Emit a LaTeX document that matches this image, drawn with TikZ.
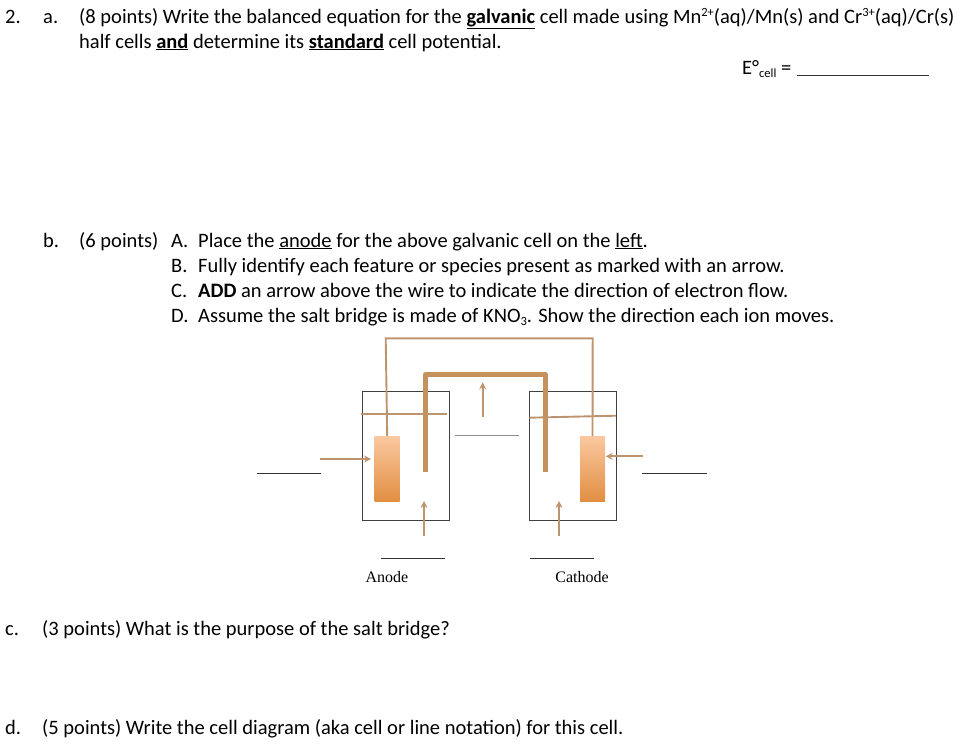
\documentclass[tikz,border=0pt]{standalone}
\usepackage{fontspec}
\setmainfont{Carlito}
\newfontfamily\labelfont{Liberation Serif}
\usetikzlibrary{arrows.meta}
\definecolor{wirebrown}{RGB}{190,148,110}
\definecolor{bridgebrown}{RGB}{198,146,92}
\definecolor{barlight}{RGB}{250,200,160}
\definecolor{bardark}{RGB}{226,142,66}
\newcommand{\upsmall}[1]{\raisebox{6.5pt}{\fontsize{12.5}{13}\selectfont #1}}
\newcommand{\downsmall}[1]{\raisebox{-3pt}{\fontsize{12.5}{13}\selectfont #1}}
\tikzset{
  qtext/.style={anchor=base west,inner sep=0pt,font=\fontsize{20.5}{22}\selectfont},
  celllabel/.style={anchor=base,inner sep=0pt,font=\fontsize{16}{17}\labelfont},
  beaker/.style={draw=black!75,line width=0.9pt,minimum width=87pt,minimum height=129pt,inner sep=0pt},
  metalbar/.style={top color=barlight,bottom color=bardark,minimum width=25pt,minimum height=65pt,inner sep=0pt},
  wire/.style={draw=wirebrown,line width=1.9pt},
  saltbridge/.style={draw=bridgebrown,line width=4.8pt,line join=round},
  markarrow/.style={draw=wirebrown,line width=1.8pt,-{Stealth[length=7pt,width=7pt]}},
  blankline/.style={draw=black!80,line width=0.8pt}
}
\begin{document}
\begin{tikzpicture}[x=1pt,y=-1pt]
      \useasboundingbox (0,0) rectangle (960,744);

      % Part a.
      \draw (5,23) node[qtext] (numtwo) {2.};
      \draw (43,23) node[qtext] (parta) {a.};
      \draw (79,23) node[qtext] (atextone) {(8 points) Write the balanced equation for the \underline{\textbf{galvanic}} cell made using Mn\upsmall{2+}(aq)/Mn(s) and Cr\upsmall{3+}(aq)/Cr(s)};
      \draw (79,48) node[qtext] (atexttwo) {half cells \underline{\textbf{and}} determine its \underline{\textbf{standard}} cell potential.};
      \draw (742,74) node[qtext] (ecell) {E°\downsmall{cell} =};
      \coordinate (eblankl) at (797,75);
      \coordinate (eblankr) at (929,75);
      \draw [blankline] (eblankl) -- (eblankr);

      % Part b.
      \draw (43,247) node[qtext] (partb) {b.};
      \draw (79,247) node[qtext] (bpoints) {(6 points)};
      \draw (171,247) node[qtext] (stepa) {A.};
      \draw (171,272) node[qtext] (stepb) {B.};
      \draw (171,297) node[qtext] (stepc) {C.};
      \draw (171,322) node[qtext] (stepd) {D.};
      \draw (198,247) node[qtext] (texta) {Place the \underline{anode} for the above galvanic cell on the \underline{left}.};
      \draw (198,272) node[qtext] (textb) {Fully identify each feature or species present as marked with an arrow.};
      \draw (198,297) node[qtext] (textc) {\textbf{ADD} an arrow above the wire to indicate the direction of electron flow.};
      \draw (198,322) node[qtext] (textd) {Assume the salt bridge is made of KNO\downsmall{3}. Show the direction each ion moves.};

      % Beakers and electrodes.
      \draw (405.8,455.8) node[beaker] (leftcell) {};
      \draw (572.7,455.8) node[beaker] (rightcell) {};
      \path (387.2,468.7) node[metalbar] (leftbar) {};
      \path (592.5,468.7) node[metalbar] (rightbar) {};

      \coordinate (wiretopl) at (385.7,338.3);
      \coordinate (wiretopr) at (592.7,338.3);
      \draw [wire] (leftbar.north) -- (wiretopl) -- (wiretopr) -- (rightbar.north); % Wire.

      \coordinate (bridgel) at (425.7,472);
      \coordinate (bridgetl) at (425.7,374.7);
      \coordinate (bridgetr) at (545.7,374.7);
      \coordinate (bridger) at (545.7,472);
      \draw [saltbridge] (bridgel) -- (bridgetl) -- (bridgetr) -- (bridger); % Salt bridge.

      \coordinate (levelll) at (361,414);
      \coordinate (levellr) at (447.3,414);
      \coordinate (levelrl) at (529.3,417.7);
      \coordinate (levelrr) at (616,415.7);
      \draw [wire] (levelll) -- (levellr); % Left solution level.
      \draw [wire] (levelrl) -- (levelrr); % Right solution level.

      % Arrows.
      \coordinate (archfoot) at (482.7,417.3);
      \coordinate (archtip) at (482.7,382.3);
      \coordinate (leftfoot) at (319.7,459);
      \coordinate (lefttip) at (371,459);
      \coordinate (rightfoot) at (643.3,456.3);
      \coordinate (righttip) at (605.7,456.3);
      \coordinate (lowlfoot) at (424,535.7);
      \coordinate (lowltip) at (424,501);
      \coordinate (lowrfoot) at (559,535.7);
      \coordinate (lowrtip) at (559,501);
      \draw [markarrow] (archfoot) -- (archtip);
      \draw [markarrow] (leftfoot) -- (lefttip);
      \draw [markarrow] (rightfoot) -- (righttip);
      \draw [markarrow] (lowlfoot) -- (lowltip);
      \draw [markarrow] (lowrfoot) -- (lowrtip);

      % Blanks to fill in.
      \coordinate (blankal) at (256.7,473);
      \coordinate (blankar) at (321,473);
      \coordinate (blankbl) at (642.3,473);
      \coordinate (blankbr) at (706.7,473);
      \coordinate (blankcl) at (455,435.3);
      \coordinate (blankcr) at (518.7,435.3);
      \coordinate (blankdl) at (381.3,558.3);
      \coordinate (blankdr) at (445.3,558.3);
      \coordinate (blankel) at (530,558.3);
      \coordinate (blanker) at (594,558.3);
      \draw [blankline] (blankal) -- (blankar);
      \draw [blankline] (blankbl) -- (blankbr);
      \draw [blankline,draw=black!45] (blankcl) -- (blankcr);
      \draw [blankline] (blankdl) -- (blankdr);
      \draw [blankline] (blankel) -- (blanker);

      \draw (387,582) node[celllabel] (anode) {Anode};
      \draw (582,582) node[celllabel] (cathode) {Cathode};

      % Parts c and d.
      \draw (5,635) node[qtext] (partc) {c.};
      \draw (42,635) node[qtext] (ctext) {(3 points) What is the purpose of the salt bridge?};
      \draw (5,734) node[qtext] (partd) {d.};
      \draw (42,734) node[qtext] (dtext) {(5 points) Write the cell diagram (aka cell or line notation) for this cell.};
    \end{tikzpicture}
\end{document}
